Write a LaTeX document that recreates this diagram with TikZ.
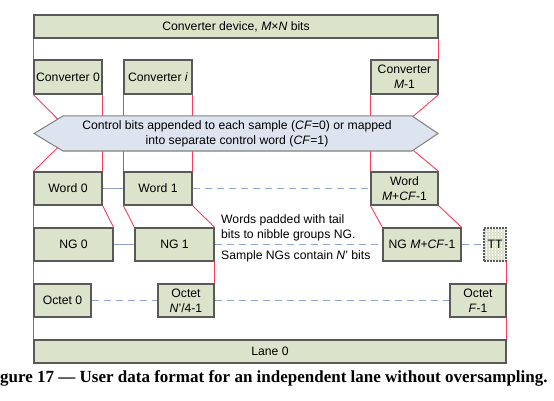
\documentclass[tikz,border=0pt]{standalone}
\usepackage{fontspec}
\setmainfont{Liberation Sans}
\newfontfamily\capfont{Liberation Serif}
\usetikzlibrary{patterns}
\definecolor{boxgreen}{HTML}{DCE3CB}
\definecolor{bannerblue}{HTML}{DDE3EF}
\definecolor{linkred}{HTML}{FF3B5C}
\definecolor{linkblue}{HTML}{8EA7D8}
\definecolor{boxedge}{HTML}{595959}
\begin{document}
\begin{tikzpicture}[x = 1pt, y = -1pt,
		labelfont/.style = {font = \fontsize{12.2}{15}\selectfont},
		box/.style = {draw = boxedge, line width = 1.2pt, fill = boxgreen, minimum height = 33pt, inner sep = 0pt, align = center, labelfont},
		redlink/.style = {draw = linkred, line width = 0.9pt},
		bluelink/.style = {draw = linkblue, line width = 1pt},
		bluedash/.style = {bluelink, dash pattern = on 7pt off 5pt}]
		\useasboundingbox[fill = white] (0, 0) rectangle (554, 401);
		% converters
		\node[box, minimum width = 404pt, minimum height = 23pt] (device) at (236, 26.5) {Converter device, \textit{M}×\textit{N} bits};
		\node[box, minimum width = 68pt, minimum height = 34pt] (conv0) at (68, 77) {Converter 0};
		\node[box, minimum width = 68pt, minimum height = 34pt] (convi) at (158, 77) {Converter \textit{i}};
		\node[box, minimum width = 67pt, minimum height = 34pt] (convm) at (404.5, 77) {Converter\\\textit{M}-1};
		% words
		\node[box, minimum width = 68pt] (word0) at (68, 188.5) {Word 0};
		\node[box, minimum width = 68pt] (word1) at (158, 188.5) {Word 1};
		\node[box, minimum width = 67pt] (wordm) at (404.5, 188.5) {Word\\\textit{M}+\textit{CF}-1};
		% nibble groups
		\node[box, minimum width = 79pt] (ng0) at (73.5, 244.5) {NG 0};
		\node[box, minimum width = 79pt] (ng1) at (174.5, 244.5) {NG 1};
		\node[box, minimum width = 78pt] (ngm) at (422, 244.5) {NG \textit{M}+\textit{CF}-1};
		\node[box, minimum width = 22pt, dash pattern = on 2pt off 1pt, preaction = {fill = boxgreen}, pattern = vertical lines, pattern color = white] (tt) at (495, 244.5) {TT};
		% octets
		\node[box, minimum width = 57pt] (oct0) at (62.5, 300.5) {Octet 0};
		\node[box, minimum width = 56pt] (octn) at (186, 300.5) {Octet\\\textit{N}'/4-1};
		\node[box, minimum width = 56pt] (octf) at (478, 300.5) {Octet\\\textit{F}-1};
		\node[box, minimum width = 472pt, minimum height = 23pt] (lane) at (270, 351.5) {Lane 0};
		% red links
		\coordinate (ctrlw) at (72, 133.5);
		\coordinate (ctrle) at (393, 133.5);
		\draw[redlink] (conv0.south west) -- (ctrlw) -- (word0.north west);
		\draw[redlink] (convm.south east) -- (ctrle) -- (wordm.north east);
		\foreach \a/\b in {device.south west/conv0.north west, device.south east/convm.north east,
			conv0.south east/word0.north east, convi.south west/word1.north west, convi.south east/word1.north east, convm.south west/wordm.north west,
			word0.south west/ng0.north west, word0.south east/ng0.north east, word1.south west/ng1.north west, word1.south east/ng1.north east,
			wordm.south west/ngm.north west, wordm.south east/ngm.north east,
			ng0.south west/oct0.north west, ng1.south east/octn.north east, tt.south east/octf.north east,
			oct0.south west/lane.north west, octf.south east/lane.north east}{
			\draw[redlink] (\a) -- (\b);}
		% blue links
		\draw[bluelink] (word0) -- (word1);
		\draw[bluelink] (ng0) -- (ng1);
		\foreach \a/\b in {word1/wordm, ng1/ngm, ngm/tt, oct0/octn, octn/octf}{
			\draw[bluedash] (\a) -- (\b);}
		% control banner
		\draw[draw = gray, line width = 1pt, fill = bannerblue] (34, 133.5) -- (63, 116) -- (412, 116) -- (438, 133.5) -- (412, 151) -- (63, 151) -- cycle;
		\node[labelfont, align = center, inner sep = 0pt] (ctrl) at (237, 133.5) {Control bits appended to each sample (\textit{CF}=0) or mapped\\into separate control word (\textit{CF}=1)};
		% notes
		\node[labelfont, anchor = west, align = left, inner sep = 0pt] (note) at (221, 227.5) {Words padded with tail\\bits to nibble groups NG.};
		\node[labelfont, anchor = west, inner sep = 0pt] (notesample) at (221, 256) {Sample NGs contain \textit{N}' bits};
		% caption
		\node[anchor = base west, inner sep = 0pt, font = \capfont\bfseries\fontsize{17}{20}\selectfont] (caption) at (0, 382) {gure 17 — User data format for an independent lane without oversampling.};
\end{tikzpicture}
\end{document}
